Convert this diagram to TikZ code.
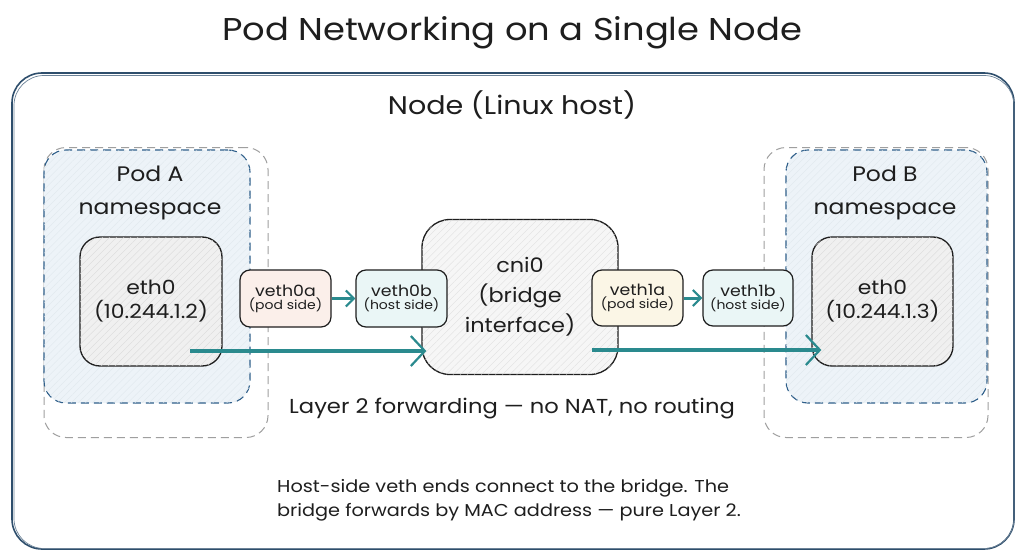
\documentclass[tikz,border=0pt]{standalone}
\usepackage{fontspec}
\setmainfont[FakeStretch=1.12]{Poppins}
\usetikzlibrary{arrows.meta,patterns.meta}
\definecolor{ink}{HTML}{1E1E1E}
\definecolor{tealc}{HTML}{2A8A8E}
\definecolor{frame}{HTML}{2E4E6C}
\definecolor{poddash}{HTML}{2F5F8A}
\definecolor{podfill}{HTML}{EDF3F8}
\definecolor{ethfill}{HTML}{F0F0F0}
\definecolor{pinkfill}{HTML}{FBEFEA}
\definecolor{cyanfill}{HTML}{EAF6F6}
\definecolor{yellowfill}{HTML}{FBF6E6}
\begin{document}
\begin{tikzpicture}[x=1pt,y=-1pt,
  every node/.style={text=ink, align=center, inner sep=0pt},
  hatch/.style={postaction={pattern={Lines[angle=45,distance=5pt,line width=0.35pt]}, pattern color=#1}},
  outerbox/.style={draw=frame, line width=1.6pt, rounded corners=30pt},
  outerbox2/.style={draw=frame!70, line width=0.7pt, rounded corners=30pt},
  podgray/.style={draw=gray!75, dash pattern=on 8pt off 5pt, line width=1pt, rounded corners=22pt},
  podblue/.style={draw=poddash, dash pattern=on 8pt off 5pt, line width=1.1pt, rounded corners=22pt, fill=podfill, hatch=poddash!15},
  ethbox/.style={draw=ink, line width=1.3pt, rounded corners=20pt, fill=ethfill, hatch=gray!30},
  bridgebox/.style={draw=ink, line width=1.3pt, rounded corners=28pt, fill=ethfill!60, hatch=gray!25},
  vethbox/.style={draw=ink, line width=1.2pt, rounded corners=10pt},
  bigarrow/.style={draw=tealc, line width=3.5pt, -{Straight Barb[length=14pt,width=30pt,line width=2.2pt]}},
  smallarrow/.style={draw=tealc, line width=3pt, -{Straight Barb[length=8pt,width=16pt,line width=2.2pt]}},
  title/.style={font=\fontsize{31.5}{36}\selectfont},
  label/.style={font=\fontsize{25.5}{27}\selectfont},
  podlabel/.style={font=\fontsize{21}{33}\selectfont},
  notetext/.style={font=\fontsize{17.2}{24}\selectfont, align=left}
]
\useasboundingbox (0,0) rectangle (1024,559);
\fill[white] (0,0) rectangle (1024,559);

\node[title] (title) at (512,33) {Pod Networking on a Single Node};

\node[outerbox, minimum width=1002pt, minimum height=476pt] (host) at (513,311) {};
\node[outerbox2, minimum width=1000pt, minimum height=473pt] (hostb) at (514,312) {};
\node[label] (hostlabel) at (512,105) {Node (Linux host)};

% Pod A
\node[podgray, minimum width=224pt, minimum height=290pt] (podAouter) at (156,292.5) {};
\node[podblue, minimum width=206pt, minimum height=253pt] (podA) at (147,276.5) {};
\node[podlabel] (podAlabel) at (150,193) {Pod A\\namespace};
\node[ethbox, minimum width=142pt, minimum height=129pt, font=\fontsize{19.5}{24}\selectfont] (ethA) at (151,301.5) {eth0\\(10.244.1.2)};

% Pod B
\node[podgray, minimum width=224pt, minimum height=290pt] (podBouter) at (876,292.5) {};
\node[podblue, minimum width=201pt, minimum height=253pt] (podB) at (886.5,276.5) {};
\node[podlabel] (podBlabel) at (885,193) {Pod B\\namespace};
\node[ethbox, minimum width=141pt, minimum height=129pt, font=\fontsize{19.5}{24}\selectfont] (ethB) at (882.5,301.5) {eth0\\(10.244.1.3)};

% bridge
\node[bridgebox, minimum width=196pt, minimum height=155pt, font=\fontsize{20}{30}\selectfont] (cni) at (520,297) {cni0\\(bridge\\interface)};

% veths
\node[vethbox, fill=pinkfill, minimum width=91pt, minimum height=57pt] (v0a) at (285.5,298.5) {\fontsize{15.5}{17}\selectfont veth0a\\[1pt]\fontsize{12.5}{14}\selectfont (pod side)};
\node[vethbox, fill=cyanfill, minimum width=91pt, minimum height=57pt] (v0b) at (401.5,298.5) {\fontsize{15.5}{17}\selectfont veth0b\\[1pt]\fontsize{12.5}{14}\selectfont (host side)};
\node[vethbox, fill=yellowfill, minimum width=91pt, minimum height=56pt] (v1a) at (637.5,298) {\fontsize{15.5}{17}\selectfont veth1a\\[1pt]\fontsize{12.5}{14}\selectfont (pod side)};
\node[vethbox, fill=cyanfill, minimum width=90pt, minimum height=56pt] (v1b) at (748,298) {\fontsize{15.5}{17}\selectfont veth1b\\[1pt]\fontsize{12.5}{14}\selectfont (host side)};

% arrows
\draw[smallarrow] (v0a.east) -- (v0b.west);
\draw[smallarrow] (v1a.east) -- (v1b.west);
\coordinate (a1) at (190,351);
\coordinate (a2) at (592,350);
\draw[bigarrow, shorten >=-5pt] (a1) -- (a1 -| cni.west);
\draw[bigarrow, shorten >=-10pt] (a2) -- (a2 -| ethB.west);

% texts
\node[font=\fontsize{20.2}{22}\selectfont] (l2) at (512,409) {Layer 2 forwarding — no NAT, no routing};
\node[notetext, anchor=west] (note) at (277,500) {Host-side veth ends connect to the bridge. The\\bridge forwards by MAC address — pure Layer 2.};
\end{tikzpicture}
\end{document}
